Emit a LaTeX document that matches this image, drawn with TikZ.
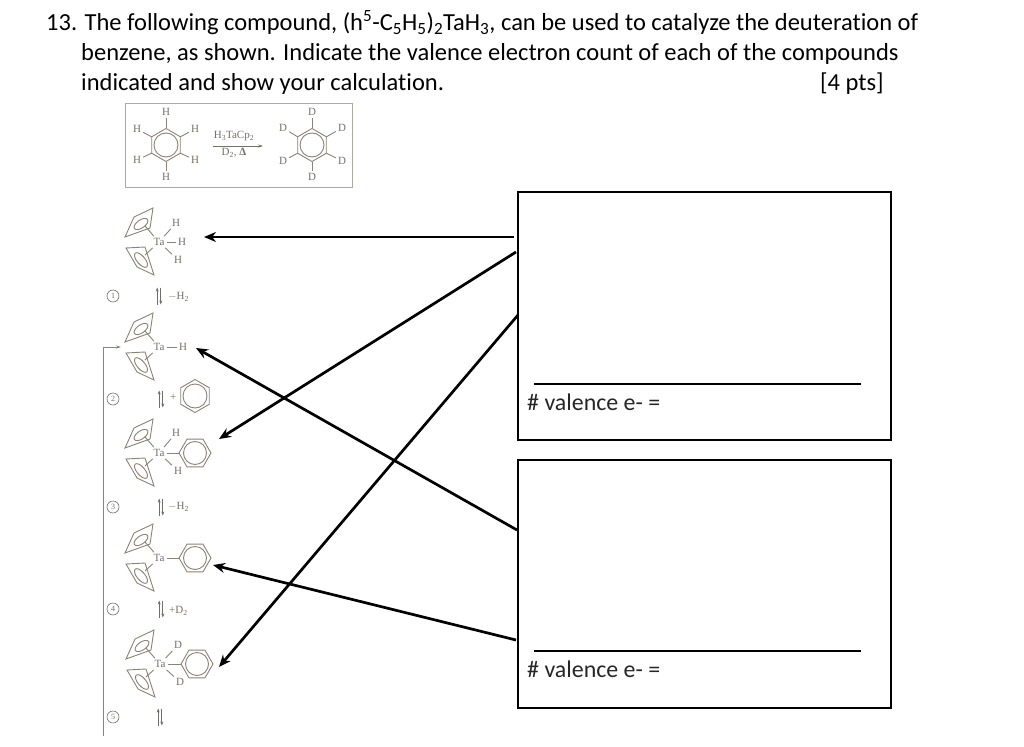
\documentclass[tikz,border=0pt]{standalone}
\usepackage{fontspec}
\setmainfont[Ligatures=NoCommon]{Carlito}
\newfontfamily\chemfont{Liberation Serif}
\newcommand{\hsub}[1]{\textsubscript{#1}}
\usetikzlibrary{arrows.meta}
\definecolor{chem}{HTML}{8C8378}
\definecolor{chemtext}{HTML}{77706A}
\definecolor{numc}{HTML}{6F6F6A}
\tikzset{
  x=1pt,y=-1pt,
  heading/.style={anchor=base west,inner sep=0,font=\fontsize{24.5}{28}\selectfont,text=black},
  valence/.style={anchor=base west,inner sep=0,font=\fontsize{23.9}{28}\selectfont,text=black!85},
  answerbox/.style={draw=black,line width=2.2pt,anchor=north west,minimum width=373pt,minimum height=248pt,inner sep=0,outer sep=0},
  writeline/.style={draw=black,line width=2pt},
  callout/.style={draw=black,line width=2.7pt,-{Stealth[length=12pt,width=10pt]}},
  chemline/.style={draw=chem,line width=0.9pt},
  chemlbl/.style={inner sep=2pt,text=chemtext,font=\chemfont\fontsize{11}{12}\selectfont},
  stepnum/.style={draw=numc,circle,line width=0.6pt,minimum size=12pt,inner sep=0,text=numc,font=\chemfont\fontsize{8}{9}\selectfont},
  equil/.style={draw=numc,line width=0.8pt,-{Stealth[length=4pt,width=3pt]}},
  cptwo/.pic={
    \draw[chemline] (-34,-5) -- (-25,-25) -- (-6,-34) -- (-9,-14) -- cycle;
    \draw[chemline,rotate around={35:(-18,-18)}] (-18,-18) ellipse (8 and 4);
    \draw[chemline] (-33,6) -- (-14,5) -- (-5,33) -- (-22,25) -- cycle;
    \draw[chemline,rotate around={-50:(-18,18)}] (-18,18) ellipse (9 and 4);
    \node[chemlbl] (ta) at (0,0) {Ta};
    \coordinate (ca) at (-14,-16);
    \coordinate (cb) at (-14,13);
    \draw[chemline] (ca) -- (ta);
    \draw[chemline] (cb) -- (ta);
  },
  ring/.pic={
    \foreach \a in {30,90,...,330} {\coordinate (v\a) at (\a:16.5);}
    \draw[chemline] (v30) -- (v90) -- (v150) -- (v210) -- (v270) -- (v330) -- cycle;
    \draw[chemline] (0,0) circle (12);
  },
  flatring/.pic={
    \foreach \a in {0,60,...,300} {\coordinate (v\a) at (\a:16);}
    \draw[chemline] (v0) -- (v60) -- (v120) -- (v180) -- (v240) -- (v300) -- cycle;
    \draw[chemline] (0,0) circle (11.5);
  },
}
\newcommand{\eqarrows}[2]{%
  \coordinate (#1a) at (#2);
  \draw[equil] ([shift={(-1.8,8.5)}]#1a) -- ([shift={(-1.8,-8.5)}]#1a);
  \draw[equil] ([shift={(1.8,-8.5)}]#1a) -- ([shift={(1.8,8.5)}]#1a);
}
\begin{document}
\begin{tikzpicture}
\useasboundingbox (0,0) rectangle (1024,746);
\fill[white] (0,0) rectangle (1024,746);
% heading
\node[heading] (l1) at (46,31) {13. The following compound, (h\textsuperscript{5}-C\hsub{5}H\hsub{5})\hsub{2}TaH\hsub{3}, can be used to catalyze the deuteration of};
\node[heading] (l2) at (81,61) {benzene, as shown. Indicate the valence electron count of each of the compounds};
\node[heading] (l3) at (81,91) {indicated and show your calculation.};
\node[heading] (pts) at (820,91) {[4 pts]};
% reaction box
\node[draw=chem!70,line width=0.8pt,anchor=north west,minimum width=227pt,minimum height=84pt,inner sep=0,outer sep=0] (rbox) at (125,103) {};
\pic (bh) at (166,145) {ring};
\pic (bd) at (312,145) {ring};
\foreach \n/\lx/\ly/\ax/\ay/\t in {a/166/112/166/128/H, b/137/129/152/137/H, c/195/129/180/137/H, d/137/160/152/153/H, e/195/160/180/153/H, f/166/177/166/162/H}{
  \node[chemlbl] (h\n) at (\lx,\ly) {\t};
  \coordinate (hc\n) at (\ax,\ay);
  \draw[chemline] (h\n) -- (hc\n);
}
\foreach \n/\lx/\ly/\ax/\ay/\t in {a/312/112/312/128/D, b/283/128/298/137/D, c/342/128/326/137/D, d/283/161/298/153/D, e/342/161/326/153/D, f/312/177/312/162/D}{
  \node[chemlbl] (d\n) at (\lx,\ly) {\t};
  \coordinate (dc\n) at (\ax,\ay);
  \draw[chemline] (d\n) -- (dc\n);
}
\node[chemlbl] (cat) at (234,136) {H\textsubscript{3}TaCp\textsubscript{2}};
\node[chemlbl] (cond) at (234,153) {D\textsubscript{2}, \textbf{Δ}};
\coordinate (ra) at (213,146);
\coordinate (rb) at (263,146);
\draw[draw=chemtext,line width=0.6pt,-{Stealth[length=5pt,width=3pt]}] (ra) -- (rb);
% complex 1
\pic (m1) at (159,242) {cptwo};
\node[chemlbl] (m1a) at (176,223) {H};
\node[chemlbl] (m1b) at (182,242) {H};
\node[chemlbl] (m1c) at (178,260) {H};
\draw[chemline] (m1ta) -- (m1a);
\draw[chemline] (m1ta) -- (m1b);
\draw[chemline] (m1ta) -- (m1c);
% complex 2
\pic (m2) at (159,347) {cptwo};
\node[chemlbl] (m2a) at (183,347) {H};
\draw[chemline] (m2ta) -- (m2a);
% complex 3
\pic (m3) at (159,453) {cptwo};
\pic (r3) at (195,453) {flatring};
\node[chemlbl] (m3a) at (176,433) {H};
\node[chemlbl] (m3b) at (178,471) {H};
\draw[chemline] (m3ta) -- (m3a);
\draw[chemline] (m3ta) -- (m3b);
\draw[chemline] (m3ta) -- (r3v180);
% complex 4
\pic (m4) at (159,558) {cptwo};
\pic (r4) at (195,558) {flatring};
\draw[chemline] (m4ta) -- (r4v180);
% complex 5
\pic (m5) at (160,664) {cptwo};
\pic (r5) at (197,664) {flatring};
\node[chemlbl] (m5a) at (178,645) {D};
\node[chemlbl] (m5b) at (180,682) {D};
\draw[chemline] (m5ta) -- (m5a);
\draw[chemline] (m5ta) -- (m5b);
\draw[chemline] (m5ta) -- (r5v180);
% equilibrium steps
\eqarrows{e1}{159,296}
\eqarrows{e2}{161,399}
\eqarrows{e3}{161,507}
\eqarrows{e4}{161,609}
\eqarrows{e5}{160,717}
\node[chemlbl,anchor=west] (t1) at (166,297) {$-$H\textsubscript{2}};
\node[chemlbl,anchor=west] (t2) at (168,397) {+};
\pic (r2) at (195,396) {ring};
\node[chemlbl,anchor=west] (t3) at (166,507) {$-$H\textsubscript{2}};
\node[chemlbl,anchor=west] (t4) at (167,611) {+D\textsubscript{2}};
% step numbers
\node[stepnum] (n1) at (113,296) {1};
\node[stepnum] (n2) at (113,399) {2};
\node[stepnum] (n3) at (113,507) {3};
\node[stepnum] (n4) at (113,609) {4};
\node[stepnum] (n5) at (113,717) {5};
% return line
\coordinate (lb) at (103,736);
\coordinate (lc) at (103,347);
\coordinate (ld) at (121,347);
\draw[draw=chem,line width=1pt,-{Stealth[length=5pt,width=3pt]}] (lb) -- (lc) -- (ld);
% answer boxes
\node[answerbox] (box1) at (518,192) {};
\node[answerbox] (box2) at (518,460) {};
\coordinate (w1a) at (534,384); \coordinate (w1b) at (861,384);
\coordinate (w2a) at (534,651); \coordinate (w2b) at (861,651);
\draw[writeline] (w1a) -- (w1b);
\draw[writeline] (w2a) -- (w2b);
\node[valence] (v1) at (527,410) {\# valence e- =};
\node[valence] (v2) at (527,677) {\# valence e- =};
% callouts
\coordinate (c1s) at (514,237); \coordinate (c1e) at (204,237);
\coordinate (c2s) at (516,252); \coordinate (c2e) at (219,439);
\coordinate (c3s) at (518,315); \coordinate (c3e) at (219,667);
\coordinate (c4s) at (517,530); \coordinate (c4e) at (196,348);
\coordinate (c5s) at (516,640); \coordinate (c5e) at (213,565);
\draw[callout] (c1s) -- (c1e);
\draw[callout] (c2s) -- (c2e);
\draw[callout] (c3s) -- (c3e);
\draw[callout] (c4s) -- (c4e);
\draw[callout] (c5s) -- (c5e);
\end{tikzpicture}
\end{document}
